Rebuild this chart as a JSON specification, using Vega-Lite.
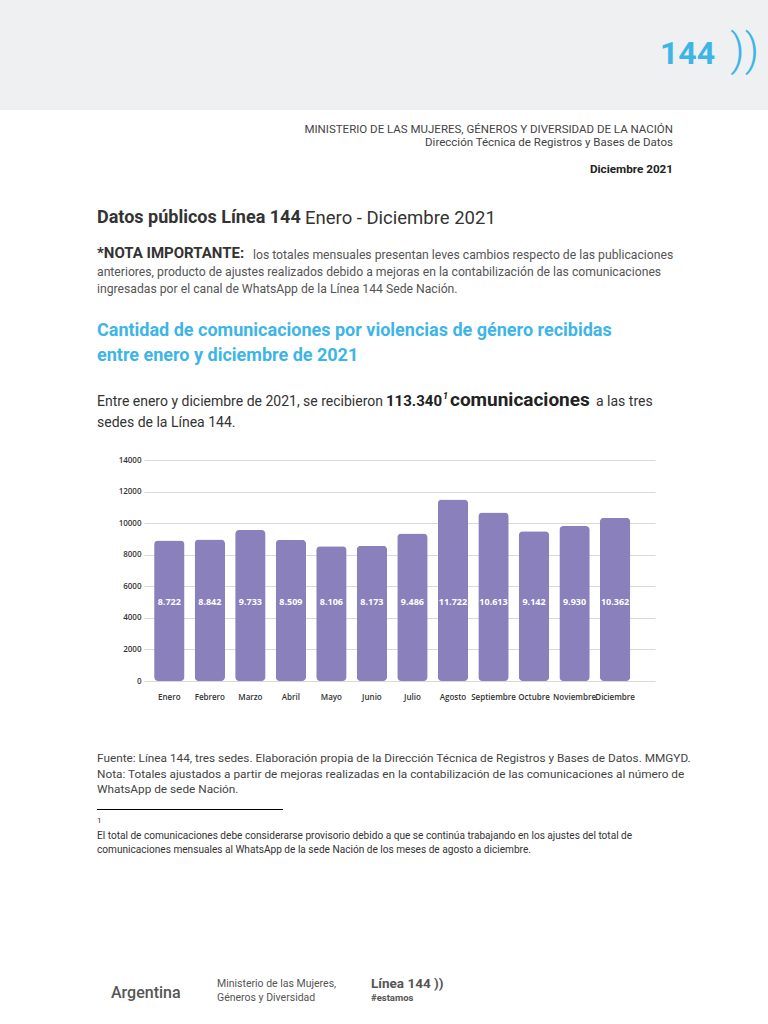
{
  "$schema": "https://vega.github.io/schema/vega-lite/v6.json",
  "padding": 0,
  "background": "#ffffff",
  "spacing": 0,
  "bounds": "flush",
  "config": {
    "view": {"stroke": null},
    "concat": {"spacing": 0},
    "title": {"offset": 0, "frame": "group", "anchor": "start", "font": "Roboto", "fontWeight": "normal", "color": "#444444"}
  },
  "vconcat": [
    {"width": 768, "height": 75, "view": {"fill": "#eff0f2", "stroke": null}, "data": {"values": []}, "mark": "text", "encoding": {}},
    {"width": 768, "height": 3, "view": {"fill": "#eff0f2", "stroke": null}, "data": {"values": []}, "mark": "text", "encoding": {},
     "title": {"text": "144", "anchor": "end", "dx": -53, "fontSize": 32, "fontWeight": "bold", "color": "#3db5e6"}},
    {"width": 768, "height": 32, "view": {"fill": "#eff0f2", "stroke": null}, "data": {"values": []}, "mark": "text", "encoding": {},
     "title": {"text": "))", "anchor": "end", "dx": -9, "fontSize": 44, "fontWeight": 300, "color": "#3db5e6"}},
    {"width": 768, "height": 41.5, "data": {"values": []}, "mark": "text", "encoding": {}},
    {"width": 768, "height": 28, "data": {"values": []}, "mark": "text", "encoding": {},
     "title": {"text": ["MINISTERIO DE LAS MUJERES, GÉNEROS Y DIVERSIDAD DE LA NACIÓN", "Dirección Técnica de Registros y Bases de Datos"], "anchor": "end", "dx": -95, "fontSize": 11.5, "lineHeight": 13, "color": "#444444"}},
    {"width": 768, "height": 51, "data": {"values": []}, "mark": "text", "encoding": {},
     "title": {"text": "Diciembre 2021", "anchor": "end", "dx": -95, "fontSize": 11.7, "fontWeight": "bold", "color": "#222222"}},
    {"width": 768, "height": 1, "data": {"values": []}, "mark": "text", "encoding": {},
     "title": {"text": "Datos públicos Línea 144", "anchor": "start", "dx": 97, "fontSize": 18, "fontWeight": "bold", "color": "#333333"}},
    {"width": 768, "height": 32.5, "data": {"values": []}, "mark": "text", "encoding": {},
     "title": {"text": "Enero - Diciembre 2021", "anchor": "start", "dx": 305, "dy": -1, "fontSize": 18.5, "color": "#333333"}},
    {"width": 768, "height": 1, "data": {"values": []}, "mark": "text", "encoding": {},
     "title": {"text": "*NOTA IMPORTANTE:", "anchor": "start", "dx": 97, "fontSize": 15, "fontWeight": "bold", "color": "#333333"}},
    {"width": 768, "height": 33, "data": {"values": []}, "mark": "text", "encoding": {},
     "title": {"text": "los totales mensuales presentan leves cambios respecto de las publicaciones", "anchor": "start", "dx": 253, "dy": -1, "fontSize": 12.2, "color": "#555555"}},
    {"width": 768, "height": 70, "data": {"values": []}, "mark": "text", "encoding": {},
     "title": {"text": ["anteriores, producto de ajustes realizados debido a mejoras en la contabilización de las comunicaciones", "ingresadas por el canal de WhatsApp de la Línea 144 Sede Nación."], "anchor": "start", "dx": 97, "fontSize": 12.2, "lineHeight": 17, "color": "#555555"}},
    {"width": 768, "height": 44, "data": {"values": []}, "mark": "text", "encoding": {},
     "title": {"text": ["Cantidad de comunicaciones por violencias de género recibidas", "entre enero y diciembre de 2021"], "anchor": "start", "dx": 97, "fontSize": 18, "lineHeight": 25, "fontWeight": "bold", "color": "#3db5e6"}},
    {"width": 768, "height": 1, "data": {"values": []}, "mark": "text", "encoding": {},
     "title": {"text": "Entre enero y diciembre de 2021, se recibieron", "anchor": "start", "dx": 97, "fontSize": 14, "color": "#333333"}},
    {"width": 768, "height": 1, "data": {"values": []}, "mark": "text", "encoding": {},
     "title": {"text": "113.340", "anchor": "start", "dx": 386, "dy": -1, "fontSize": 15, "fontWeight": "bold", "color": "#222222"}},
    {"width": 768, "height": 1, "data": {"values": []}, "mark": "text", "encoding": {},
     "title": {"text": "1", "anchor": "start", "dx": 443, "dy": -10, "fontSize": 9, "fontWeight": "bold", "fontStyle": "italic", "color": "#222222"}},
    {"width": 768, "height": 1, "data": {"values": []}, "mark": "text", "encoding": {},
     "title": {"text": "comunicaciones", "anchor": "start", "dx": 450, "dy": -2, "fontSize": 19, "fontWeight": "bold", "color": "#222222"}},
    {"width": 768, "height": 17, "data": {"values": []}, "mark": "text", "encoding": {},
     "title": {"text": "a las tres", "anchor": "start", "dx": 596, "dy": -4, "fontSize": 14, "color": "#333333"}},
    {"width": 768, "height": 26, "data": {"values": []}, "mark": "text", "encoding": {},
     "title": {"text": "sedes de la Línea 144.", "anchor": "start", "dx": 97, "fontSize": 14, "color": "#333333"}},
    {
      "bounds": "flush",
      "spacing": 0,
      "hconcat": [
        {"width": 144, "height": 221, "data": {"values": []}, "mark": "text", "encoding": {}},
        {
          "width": 511,
          "height": 221,
          "data": {"values": [
            {"mes": "Enero", "valor": 8900, "etiqueta": "8.722"},
            {"mes": "Febrero", "valor": 8970, "etiqueta": "8.842"},
            {"mes": "Marzo", "valor": 9560, "etiqueta": "9.733"},
            {"mes": "Abril", "valor": 8950, "etiqueta": "8.509"},
            {"mes": "Mayo", "valor": 8530, "etiqueta": "8.106"},
            {"mes": "Junio", "valor": 8570, "etiqueta": "8.173"},
            {"mes": "Julio", "valor": 9350, "etiqueta": "9.486"},
            {"mes": "Agosto", "valor": 11500, "etiqueta": "11.722"},
            {"mes": "Septiembre", "valor": 10680, "etiqueta": "10.613"},
            {"mes": "Octubre", "valor": 9480, "etiqueta": "9.142"},
            {"mes": "Noviembre", "valor": 9820, "etiqueta": "9.930"},
            {"mes": "Diciembre", "valor": 10340, "etiqueta": "10.362"}
          ]},
          "layer": [
            {
              "mark": {"type": "bar", "color": "#8a80bb", "cornerRadius": 4},
              "encoding": {
                "x": {"field": "mes", "type": "nominal", "sort": null,
                      "scale": {"paddingInner": 0.25, "paddingOuter": 0.43, "align": 0.29},
                      "axis": {"title": null, "labelAngle": 0, "domain": false, "ticks": false, "grid": false, "labelPadding": 12, "labelFont": "Open Sans", "labelFontSize": 8, "labelFontWeight": 600, "labelColor": "#333333"}},
                "y": {"field": "valor", "type": "quantitative",
                      "scale": {"domain": [0, 14000], "nice": false},
                      "axis": {"title": null, "values": [0, 2000, 4000, 6000, 8000, 10000, 12000, 14000], "format": "d", "labelOverlap": false, "domain": false, "ticks": false, "labelPadding": 3, "labelFont": "Open Sans", "labelFontSize": 8, "labelFontWeight": 600, "labelColor": "#333333", "gridColor": "#d9d9d9", "gridWidth": 1}}
              }
            },
            {
              "mark": {"type": "text", "color": "#ffffff", "font": "Open Sans", "fontWeight": "bold", "fontSize": 9, "baseline": "middle"},
              "encoding": {
                "x": {"field": "mes", "type": "nominal", "sort": null},
                "y": {"datum": 5000, "type": "quantitative",
                      "axis": {"title": null, "values": [0, 2000, 4000, 6000, 8000, 10000, 12000, 14000], "format": "d", "labelOverlap": false, "domain": false, "ticks": false, "labelPadding": 3, "labelFont": "Open Sans", "labelFontSize": 8, "labelFontWeight": 600, "labelColor": "#333333", "gridColor": "#d9d9d9", "gridWidth": 1}},
                "text": {"field": "etiqueta"}
              }
            }
          ]
        }
      ]
    },
    {"width": 768, "height": 339.5, "data": {"values": []}, "mark": "text", "encoding": {}},
    {"width": 768, "height": 8.5, "data": {"values": []}, "mark": "text", "encoding": {},
     "title": {"text": ["Fuente: Línea 144, tres sedes. Elaboración propia de la Dirección Técnica de Registros y Bases de Datos. MMGYD.", "Nota: Totales ajustados a partir de mejoras realizadas en la contabilización de las comunicaciones al número de", "WhatsApp de sede Nación."], "anchor": "start", "dx": 97, "fontSize": 11.8, "lineHeight": 15.5, "color": "#444444"}},
    {
      "bounds": "flush",
      "spacing": 0,
      "hconcat": [
        {"width": 97, "height": 1, "data": {"values": []}, "mark": "text", "encoding": {}},
        {"width": 186, "height": 1, "view": {"fill": "#000000", "stroke": null}, "data": {"values": []}, "mark": "text", "encoding": {}}
      ]
    },
    {"width": 768, "height": 20, "data": {"values": []}, "mark": "text", "encoding": {}},
    {"width": 768, "height": 30, "data": {"values": []}, "mark": "text", "encoding": {},
     "title": {"text": "1", "anchor": "start", "dx": 97, "fontSize": 8, "color": "#333333"}},
    {"width": 768, "height": 135, "data": {"values": []}, "mark": "text", "encoding": {},
     "title": {"text": ["El total de comunicaciones debe considerarse provisorio debido a que se continúa trabajando en los ajustes del total de", "comunicaciones mensuales al WhatsApp de la sede Nación de los meses de agosto a diciembre."], "anchor": "start", "dx": 97, "fontSize": 10.1, "lineHeight": 13.5, "color": "#333333"}},
    {"width": 768, "height": 10.6, "data": {"values": []}, "mark": "text", "encoding": {},
     "title": {"text": "Línea 144 ))", "anchor": "start", "dx": 371, "fontSize": 13.5, "fontWeight": "bold", "color": "#555555"}},
    {"width": 768, "height": 1, "data": {"values": []}, "mark": "text", "encoding": {},
     "title": {"text": "Argentina", "anchor": "start", "dx": 111, "fontSize": 16, "fontWeight": 500, "color": "#555555"}},
    {"width": 768, "height": 1, "data": {"values": []}, "mark": "text", "encoding": {},
     "title": {"text": "#estamos", "anchor": "start", "dx": 371, "fontSize": 9.5, "fontWeight": "bold", "color": "#555555"}},
    {"width": 768, "height": 19.4, "data": {"values": []}, "mark": "text", "encoding": {},
     "title": {"text": ["Ministerio de las Mujeres,", "Géneros y Diversidad"], "anchor": "start", "dx": 217, "fontSize": 10.5, "lineHeight": 14, "color": "#555555"}}
  ]
}
